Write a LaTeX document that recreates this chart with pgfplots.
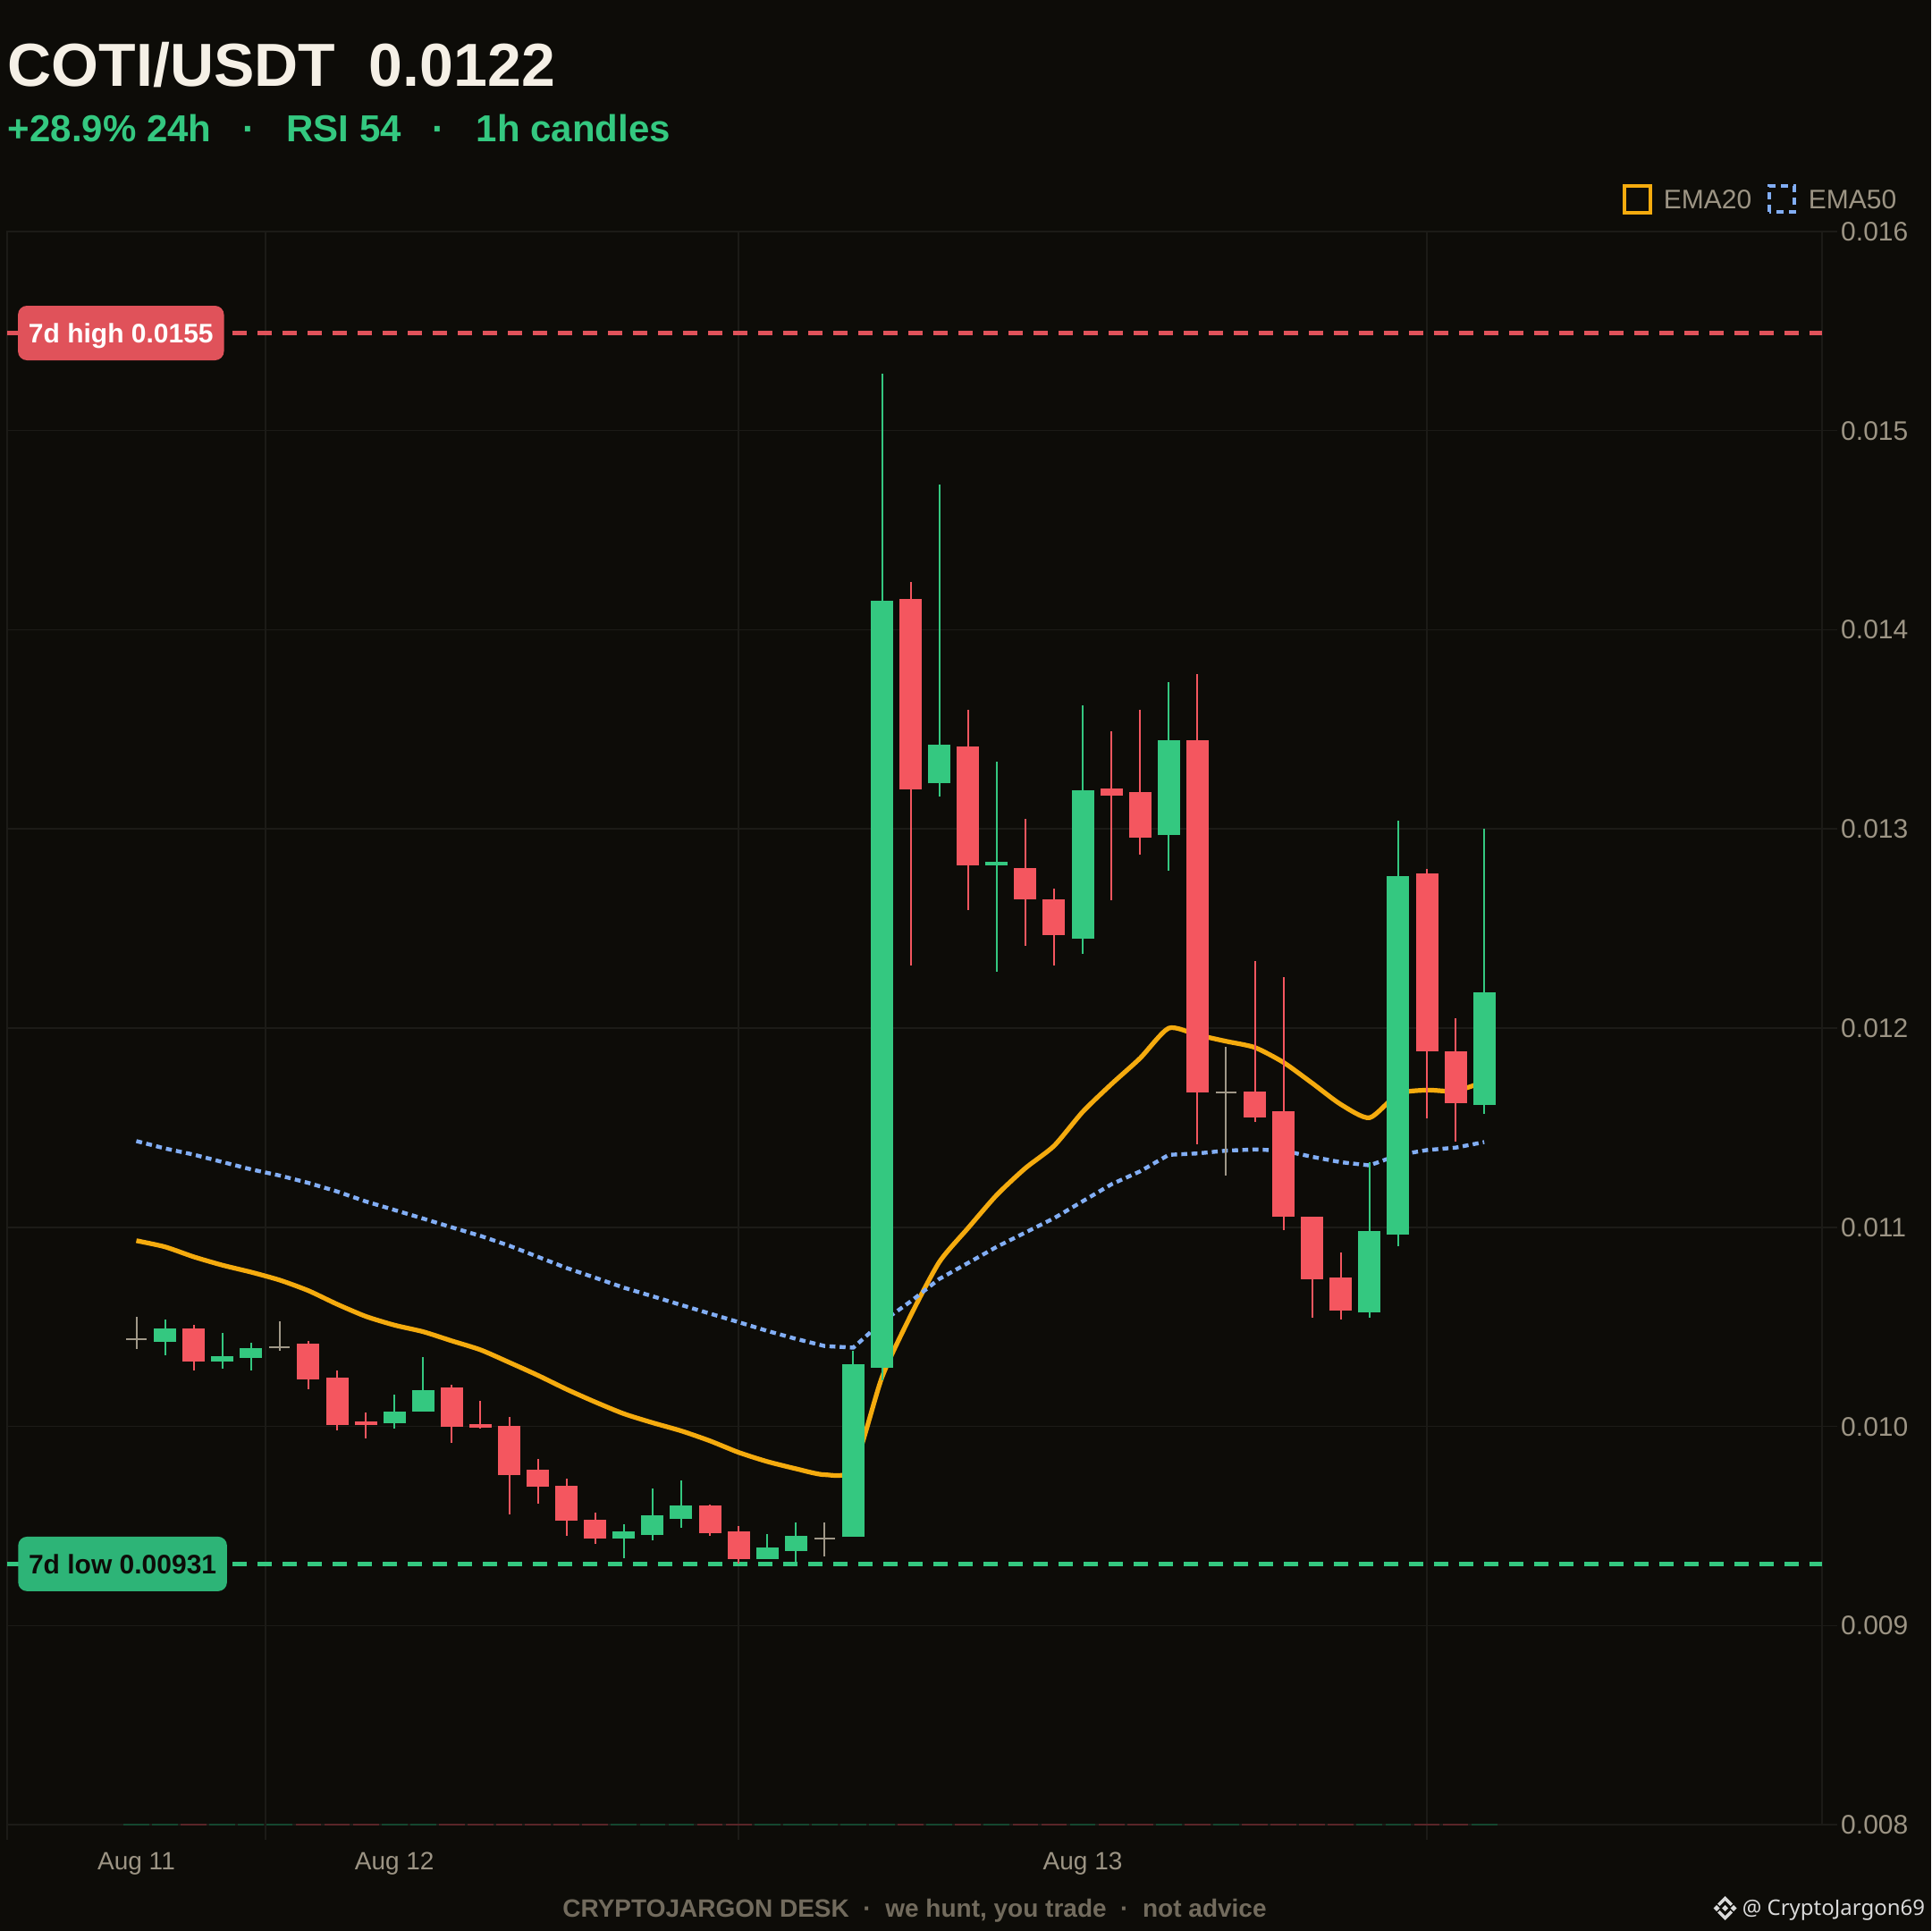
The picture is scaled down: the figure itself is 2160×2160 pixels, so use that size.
\documentclass[border=0pt]{standalone}
\usepackage{fontspec}
\usepackage{pgfplots}
\usepackage{pgfplotstable}
\pgfplotsset{compat=1.18}
\setmainfont{Liberation Sans}
\newfontfamily\wmfont{Noto Sans}
\definecolor{bgc}{HTML}{0D0C08}
\definecolor{gridc}{HTML}{1C1B17}
\definecolor{tickc}{HTML}{9C9484}
\definecolor{footc}{HTML}{726B5D}
\definecolor{titlec}{HTML}{F5F0E6}
\definecolor{upc}{HTML}{34C880}
\definecolor{downc}{HTML}{F4565F}
\definecolor{neutc}{HTML}{A09888}
\definecolor{hic}{HTML}{E0525A}
\definecolor{loc}{HTML}{2DB477}
\definecolor{emaa}{HTML}{F5AB0E}
\definecolor{emab}{HTML}{82AEF5}
\definecolor{volg}{HTML}{14472F}
\definecolor{volr}{HTML}{5A2528}
% i high top bottom low
\pgfplotstableread{
i hi top bot lo
1 0.010539 0.010494 0.010426 0.010359
3 0.010468 0.010353 0.010326 0.010290
4 0.010419 0.010393 0.010346 0.010280
9 0.010160 0.010075 0.010015 0.009990
10 0.010349 0.010184 0.010076 0.010076
17 0.009509 0.009473 0.009436 0.009340
18 0.009690 0.009554 0.009455 0.009430
19 0.009729 0.009604 0.009535 0.009490
22 0.009460 0.009393 0.009336 0.009336
23 0.009520 0.009452 0.009376 0.009316
25 0.010382 0.010313 0.009445 0.009445
26 0.015288 0.014145 0.010296 0.010232
28 0.014728 0.013424 0.013228 0.013162
30 0.013340 0.012836 0.012818 0.012283
33 0.013621 0.013194 0.012447 0.012373
36 0.013739 0.013444 0.012968 0.012792
43 0.011325 0.010981 0.010571 0.010546
44 0.013040 0.012764 0.010962 0.010907
47 0.013000 0.012182 0.011614 0.011570
}\upt
\pgfplotstableread{
i hi top bot lo
2 0.010509 0.010494 0.010326 0.010280
6 0.010429 0.010414 0.010236 0.010189
7 0.010280 0.010244 0.010006 0.009979
8 0.010069 0.010024 0.010006 0.009939
11 0.010209 0.010194 0.009997 0.009919
12 0.010130 0.010013 0.009996 0.009990
13 0.010048 0.010003 0.009756 0.009560
14 0.009838 0.009783 0.009696 0.009611
15 0.009738 0.009702 0.009526 0.009449
16 0.009568 0.009533 0.009436 0.009409
20 0.009610 0.009604 0.009466 0.009449
21 0.009499 0.009473 0.009336 0.009312
27 0.014239 0.014153 0.013198 0.012313
29 0.013599 0.013414 0.012818 0.012594
31 0.013050 0.012804 0.012648 0.012413
32 0.012700 0.012646 0.012467 0.012313
34 0.013490 0.013204 0.013166 0.012642
35 0.013599 0.013184 0.012958 0.012872
37 0.013779 0.013444 0.011675 0.011417
39 0.012337 0.011682 0.011553 0.011527
40 0.012258 0.011582 0.011053 0.010986
41 0.011052 0.011052 0.010740 0.010544
42 0.010874 0.010750 0.010580 0.010535
45 0.012800 0.012775 0.011885 0.011547
46 0.012048 0.011883 0.011623 0.011429
}\downt
\pgfplotstableread{
i hi top bot lo
0 0.010549 0.010445 0.010435 0.010390
5 0.010528 0.010404 0.010394 0.010379
24 0.009520 0.009444 0.009434 0.009349
38 0.011907 0.011683 0.011673 0.011258
}\neutt
\pgfplotstableread{
i v
0 0.010933
1 0.010902
2 0.010852
3 0.010810
4 0.010775
5 0.010735
6 0.010682
7 0.010614
8 0.010553
9 0.010509
10 0.010476
11 0.010430
12 0.010385
13 0.010322
14 0.010257
15 0.010187
16 0.010123
17 0.010064
18 0.010019
19 0.009978
20 0.009928
21 0.009870
22 0.009824
23 0.009788
24 0.009758
25 0.009790
26 0.010247
27 0.010557
28 0.010826
29 0.010996
30 0.011162
31 0.011297
32 0.011409
33 0.011580
34 0.011719
35 0.011849
36 0.012000
37 0.011966
38 0.011934
39 0.011903
40 0.011828
41 0.011724
42 0.011617
43 0.011550
44 0.011670
45 0.011689
46 0.011684
47 0.011732
}\emaA
\pgfplotstableread{
i v
0 0.011433
1 0.011396
2 0.011365
3 0.011328
4 0.011291
5 0.011260
6 0.011223
7 0.011180
8 0.011130
9 0.011087
10 0.011044
11 0.011000
12 0.010957
13 0.010908
14 0.010852
15 0.010796
16 0.010747
17 0.010697
18 0.010654
19 0.010610
20 0.010567
21 0.010524
22 0.010480
23 0.010440
24 0.010404
25 0.010396
26 0.010525
27 0.010628
28 0.010741
29 0.010821
30 0.010902
31 0.010974
32 0.011046
33 0.011131
34 0.011216
35 0.011281
36 0.011364
37 0.011371
38 0.011385
39 0.011391
40 0.011385
41 0.011354
42 0.011327
43 0.011311
44 0.011363
45 0.011388
46 0.011400
47 0.011428
}\emaB
\newcommand{\candles}[3]{%
  \addplot[draw=none,mark=none,forget plot,
    error bars/.cd,y dir=both,y explicit,error mark=none,
    error bar style={line width=0.5pt,color=#2}]
    table[x=i,y=top,y error plus expr=\thisrow{hi}-\thisrow{top},y error minus expr=\thisrow{top}-\thisrow{lo}] {#1};
  \addplot[draw=none,mark=none,forget plot,
    error bars/.cd,y dir=plus,y explicit,error mark=none,
    error bar style={line width=#3,color=#2,line cap=butt}]
    table[x=i,y=bot,y error plus expr=\thisrow{top}-\thisrow{bot}] {#1};
}
\begin{document}
\begin{tikzpicture}[x=0.25pt,y=0.25pt]
\useasboundingbox (0,0) rectangle (2160,2160);
\fill[bgc] (0,0) rectangle (2160,2160);
\begin{axis}[
  at={(2pt,29.68pt)},anchor=south west,scale only axis,
  width=507.5pt,height=445.6pt,
  xmin=-4.505,xmax=58.78,ymin=0.008,ymax=0.016,
  clip=false,
  axis line style={draw=gridc,line width=0.4pt},
  grid=major,major grid style={draw=gridc,line width=0.4pt},
  xtick={-4.505,4.5,21,45},xticklabels={},
  extra x ticks={0,9,33},extra x tick labels={Aug 11,Aug 12,Aug 13},
  extra x tick style={grid=none,major tick length=0pt},
  xtick pos=bottom,ytick pos=right,
  yticklabel pos=right,
  tick align=outside,major tick length=4.2pt,
  tick style={draw=gridc,line width=0.4pt},
  ytick={0.008,0.009,0.010,0.011,0.012,0.013,0.014,0.015,0.016},
  scaled y ticks=false,
  yticklabel style={/pgf/number format/fixed,/pgf/number format/fixed zerofill,/pgf/number format/precision=3,/pgf/number format/assume math mode=true,
    font=\fontsize{7.5pt}{9pt}\selectfont,text=tickc,anchor=west,inner xsep=0pt,xshift=0.9pt},
  xticklabel style={font=\fontsize{7pt}{8pt}\selectfont,text=tickc,inner sep=0pt,anchor=base,yshift=-12.5pt},
]
\addplot[only marks,mark=-,mark size=3.6pt,mark options={draw=volg,line width=0.4pt},forget plot] coordinates {
(0,0.008)(1,0.008)(3,0.008)(4,0.008)(5,0.008)(9,0.008)(10,0.008)(17,0.008)(18,0.008)(19,0.008)(22,0.008)(23,0.008)(24,0.008)(25,0.008)(26,0.008)(28,0.008)(30,0.008)(33,0.008)(36,0.008)(38,0.008)(43,0.008)(44,0.008)(47,0.008)};
\addplot[only marks,mark=-,mark size=3.6pt,mark options={draw=volr,line width=0.4pt},forget plot] coordinates {
(2,0.008)(6,0.008)(7,0.008)(8,0.008)(11,0.008)(12,0.008)(13,0.008)(14,0.008)(15,0.008)(16,0.008)(20,0.008)(21,0.008)(27,0.008)(29,0.008)(31,0.008)(32,0.008)(34,0.008)(35,0.008)(37,0.008)(39,0.008)(40,0.008)(41,0.008)(42,0.008)(45,0.008)(46,0.008)};
\addplot[hic,line width=1.05pt,dash pattern=on 4pt off 3pt,forget plot] coordinates {(-4.505,0.01549)(58.78,0.01549)};
\addplot[upc,line width=1.05pt,dash pattern=on 4pt off 3pt,forget plot] coordinates {(-4.505,0.00931)(58.78,0.00931)};
\addplot[emaa,line width=1.3pt,line join=round,smooth,tension=0.4,forget plot] table[x=i,y=v] {\emaA};
\addplot[emab,line width=1.1pt,dash pattern=on 1.65pt off 1.2pt,forget plot] table[x=i,y=v] {\emaB};
\candles{\upt}{upc}{6.25pt}
\candles{\downt}{downc}{6.25pt}
\candles{\neutt}{neutc}{5.75pt}
\node[fill=hic,rounded corners=2.5pt,minimum width=57.6pt,minimum height=15.25pt,inner sep=0pt,text=white,text height=5.4pt,text depth=0pt,font=\fontsize{7.5pt}{9pt}\selectfont\bfseries] at (axis cs:-0.536,0.01549) {7d high 0.0155};
\node[fill=loc,rounded corners=2.5pt,minimum width=58.4pt,minimum height=15.25pt,inner sep=0pt,text=bgc,text height=5.4pt,text depth=0pt,font=\fontsize{7.5pt}{9pt}\selectfont\bfseries] at (axis cs:-0.48,0.00931) {7d low 0.00931};
\end{axis}
% header
\node[anchor=base west,inner sep=0pt,text=titlec,font=\fontsize{17pt}{20pt}\selectfont\bfseries] at (8,2063) {COTI/USDT\ \ 0.0122};
\node[anchor=base west,inner sep=0pt,text=upc,font=\fontsize{10.5pt}{12pt}\selectfont\bfseries] at (8,2001.5) {+28.9\% 24h\ \ \ ·\ \ \ RSI 54\ \ \ ·\ \ \ 1h candles};
% legend
\draw[emaa,line width=1.15pt] (1817,1922) rectangle (1846,1952);
\draw[emab,line width=1.15pt,dash pattern=on 2pt off 1.5pt] (1979,1923) rectangle (2007,1952);
\node[anchor=base west,inner sep=0pt,text=tickc,font=\fontsize{7.5pt}{9pt}\selectfont] at (1860,1926) {EMA20};
\node[anchor=base west,inner sep=0pt,text=tickc,font=\fontsize{7.5pt}{9pt}\selectfont] at (2022,1926) {EMA50};
% footer
\node[anchor=base,inner sep=0pt,text=footc,font=\fontsize{7pt}{8pt}\selectfont\bfseries] at (1023,15) {CRYPTOJARGON DESK\ \ ·\ \ we hunt, you trade\ \ ·\ \ not advice};
% watermark
\begin{scope}[shift={(1929.5,25.5)},fill=white!85!black]
\fill (0,13.5) -- (8.5,5) -- (6,2.5) -- (0,8.5) -- (-6,2.5) -- (-8.5,5) -- cycle;
\fill (0,-13.5) -- (8.5,-5) -- (6,-2.5) -- (0,-8.5) -- (-6,-2.5) -- (-8.5,-5) -- cycle;
\fill (0,3.5) -- (3.5,0) -- (0,-3.5) -- (-3.5,0) -- cycle;
\fill (-9.5,3.5) -- (-6,0) -- (-9.5,-3.5) -- (-13,0) -- cycle;
\fill (9.5,3.5) -- (13,0) -- (9.5,-3.5) -- (6,0) -- cycle;
\end{scope}
\node[anchor=base west,inner sep=0pt,text=white!85!black,font=\wmfont\fontsize{6pt}{7pt}\selectfont] at (1948,18) {@ CryptoJargon69};
\end{tikzpicture}
\end{document}
